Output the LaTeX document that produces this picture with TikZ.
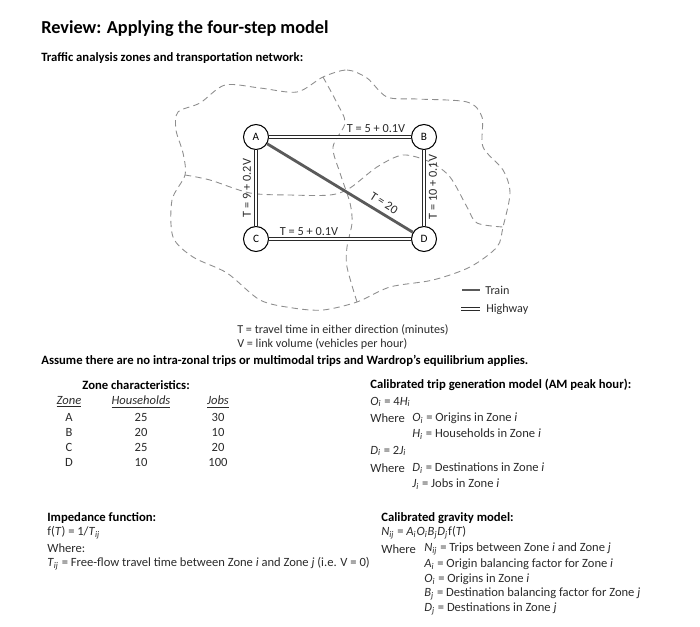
\documentclass[tikz,border=0pt]{standalone}
\usepackage{fontspec}
\setmainfont{Carlito}
\usepackage{tikz}
\usetikzlibrary{positioning}
\definecolor{ZoneGray}{HTML}{8E8E8E}
\definecolor{TrainGray}{HTML}{5A5A5A}
\definecolor{RoadDark}{HTML}{2A2A2A}
\definecolor{TextDark}{HTML}{2A2A2A}
\newcommand{\sym}[2]{\textit{#1}\textsubscript{\textit{#2}}}

\begin{document}
\begin{tikzpicture}[
    x=0.02cm,
    y=-0.02cm,
    zone/.style={
      draw=ZoneGray,
      line width=0.5pt,
      dash pattern=on 3.6pt off 2.4pt
    },
    station/.style={
      circle,
      draw=black,
      fill=white,
      line width=0.6pt,
      minimum size=0.5cm,
      inner sep=0pt,
      font=\fontsize{6.4}{7}\selectfont
    },
    highway/.style={
      preaction={draw=RoadDark,line width=2.2pt},
      draw=white,
      line width=0.6pt
    },
    train/.style={
      draw=TrainGray,
      line width=1.6pt
    },
    link/.style={
      font=\fontsize{7}{8}\selectfont,
      color=TextDark,
      inner sep=0pt
    },
    note/.style={
      anchor=west,
      font=\fontsize{6.9}{8}\selectfont,
      color=TextDark,
      inner sep=0pt
    },
    body/.style={
      anchor=west,
      font=\fontsize{7.15}{8}\selectfont,
      color=TextDark,
      inner sep=0pt
    },
    head/.style={
      anchor=west,
      font=\fontsize{7.22}{8}\selectfont\bfseries,
      color=black,
      inner sep=0pt
    },
    cell/.style={
      font=\fontsize{7.15}{8}\selectfont,
      color=TextDark,
      inner sep=0pt
    }
  ]
  \useasboundingbox (0,0) rectangle (700,626);

  % Zones
  \draw[zone] plot[smooth cycle] coordinates {(323,77) (347,70) (367,78) (387,97)
    (417,99) (467,102) (482,117) (483,147) (503,170) (510,193) (503,227) (497,247)
    (470,267) (433,280) (390,287) (357,302) (323,310) (293,308) (260,300) (227,273)
    (193,257) (173,237) (172,200) (185,175) (183,153) (176,130) (178,112) (200,103)
    (225,85) (260,88) (297,92)};
  \draw[zone] plot[smooth] coordinates {(323,77) (337,103) (345,123) (333,147)
    (340,173) (350,203) (352,223) (347,247) (347,267) (357,302)};
  \draw[zone] plot[smooth] coordinates {(185,175) (210,180) (250,193) (290,195)
    (330,195) (350,188) (377,167) (403,155) (430,162) (450,177) (467,207) (477,223)
    (503,227)};

  % Network
  \node[station] (A) at (256,137) {A};
  \node[station] (B) at (424,137) {B};
  \node[station] (C) at (256,239) {C};
  \node[station] (D) at (424,239) {D};

  \draw[highway] (A) -- (B);
  \draw[highway] (A) -- (C);
  \draw[highway] (B) -- (D);
  \draw[highway] (C) -- (D);
  \draw[train] (A) -- (D);

  \node[link] (tab) at (376,129) {T = 5 + 0.1V};
  \node[link] (tcd) at (309,232) {T = 5 + 0.1V};
  \node[link,rotate=90] (tac) at (247,188) {T = 9 + 0.2V};
  \node[link,rotate=90] (tbd) at (433,187) {T = 10 + 0.1V};
  \node[link,rotate=-33] (tad) at (384,203) {T = 20};

  % Legend
  \coordinate (trainl) at (462,290);
  \coordinate (trainr) at (480,290);
  \coordinate (highl) at (461,309);
  \coordinate (highr) at (480,309);
  \node[note] (trainlabel) at (485,290) {Train};
  \node[note] (highlabel) at (486,309) {Highway};
  \draw[train] (trainl) -- (trainr);
  \draw[highway] (highl) -- (highr);

  % Headings
  \node[head,font=\fontsize{10.4}{12}\selectfont\bfseries] (title) at (41,29)
    {Review: Applying the four-step model};
  \node[head] (network) at (41,58) {Traffic analysis zones and transportation network:};
  \node[note] (tnote) at (237,330)
    {T = travel time in either direction (minutes)};
  \node[note] (vnote) at (237,344)
    {V = link volume (vehicles per hour)};
  \node[head] (assume) at (41,361)
    {Assume there are no intra-zonal trips or multimodal trips and Wardrop's equilibrium applies.};

  % Zone table
  \node[head] (zones) at (82,385) {Zone characteristics:};
  \node[cell] (zonehead) at (69,402) {\underline{\textit{Zone}}};
  \node[cell] (hhhead) at (141,402) {\underline{\textit{Households}}};
  \node[cell] (jobshead) at (218,402) {\underline{\textit{Jobs}}};
  \foreach \zn/\hh/\jb/\yy in {A/25/30/417,B/20/10/432,C/25/20/447,D/10/100/462} {
    \node[cell] (zone\zn) at (69,\yy) {\zn};
    \node[cell] (hh\zn) at (141,\yy) {\hh};
    \node[cell] (jobs\zn) at (218,\yy) {\jb};
  }

  % Trip generation
  \node[head] (tripgen) at (370,385) {Calibrated trip generation model (AM peak hour):};
  \node[body] (oeq) at (370,402) {\sym{O}{i} = 4\sym{H}{i}};
  \node[body] (wherea) at (370,418) {Where};
  \node[body] (odef) at (412,418) {\sym{O}{i} = Origins in Zone \textit{i}};
  \node[body] (hdef) at (412,434) {\sym{H}{i} = Households in Zone \textit{i}};
  \node[body] (deq) at (370,451) {\sym{D}{i} = 2\sym{J}{i}};
  \node[body] (whereb) at (370,468) {Where};
  \node[body] (ddef) at (412,468) {\sym{D}{i} = Destinations in Zone \textit{i}};
  \node[body] (jdef) at (412,484) {\sym{J}{i} = Jobs in Zone \textit{i}};

  % Impedance
  \node[head] (imped) at (47,518) {Impedance function:};
  \node[body] (feq) at (47,533) {f(\textit{T}) = 1/\sym{T}{ij}};
  \node[body] (wherec) at (47,548) {Where:};
  \node[body] (tdef) at (47,564)
    {\sym{T}{ij} = Free-flow travel time between Zone \textit{i} and Zone \textit{j} (i.e. V = 0)};

  % Gravity model
  \node[head] (gravity) at (381,518) {Calibrated gravity model:};
  \node[body] (neq) at (381,533) {\sym{N}{ij} = \sym{A}{i}\sym{O}{i}\sym{B}{j}\sym{D}{j}f(\textit{T})};
  \node[body] (whered) at (381,549) {Where};
  \node[body] (ndef) at (424,549) {\sym{N}{ij} = Trips between Zone \textit{i} and Zone \textit{j}};
  \node[body] (adef) at (424,564) {\sym{A}{i} = Origin balancing factor for Zone \textit{i}};
  \node[body] (oidef) at (424,579) {\sym{O}{i} = Origins in Zone \textit{i}};
  \node[body] (bdef) at (424,594) {\sym{B}{j} = Destination balancing factor for Zone \textit{j}};
  \node[body] (djdef) at (424,609) {\sym{D}{j} = Destinations in Zone \textit{j}};

\end{tikzpicture}
\end{document}
